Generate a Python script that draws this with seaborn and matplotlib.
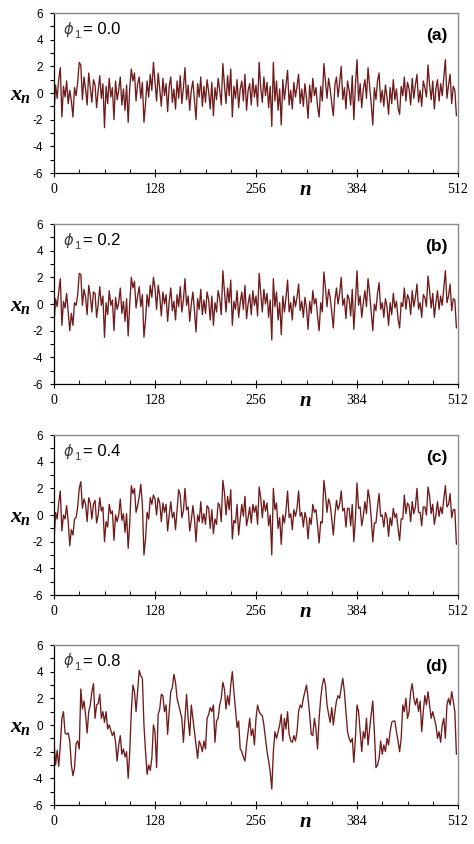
import numpy as np
import pandas as pd
import matplotlib
matplotlib.use("Agg")
import matplotlib.pyplot as plt
from matplotlib.ticker import FixedLocator, MultipleLocator
import seaborn as sns

# ---------------- data (every 2nd sample) ----------------
phi_values = ["0.0", "0.2", "0.4", "0.8"]
panel_tags = ["(a)", "(b)", "(c)", "(d)"]
x_ticks = [0, 128, 256, 384, 512]
x_tick_labels = ["0", "128", "256", "384", "512"]
y_ticks = [-6, -4, -2, 0, 2, 4, 6]
y_tick_labels = ["-6", "-4", "-2", "0", "2", "4", "6"]

series_a = [
    -1.5, 0.6, -0.4, 1.0, 1.9, -1.8, 0.5, -0.3, 0.9, -0.8, 0.2, -0.6, -1.8, 0.4, -0.2, 0.8,
    2.3, 2.1, -0.5, 1.2, 0.3, -0.9, 1.5, 0.4, -0.7, 1.0, 0.6, -1.1, 0.2, 1.3, -0.4, 0.7,
    -2.6, 0.5, -0.8, 1.1, -0.3, 0.4, -2.0, 0.9, -0.5, 0.2, 1.2, -0.9, 0.3, -1.3, 0.6, -2.2,
    0.4, 1.8, 0.9, 1.5, -0.6, 0.7, 1.2, -0.4, 0.8, -2.2, -0.8, 0.9, -0.3, 1.4, 0.2, 2.3,
    0.8, -0.6, 1.5, 0.3, -1.0, 1.1, -0.2, 0.7, -1.4, 0.5, 1.2, -0.7, 0.3, -1.2, 0.9, -0.4,
    1.3, -0.8, 0.4, 1.9, -0.5, 0.6, -1.3, 0.2, 0.9, -0.6, -2.0, 0.7, -0.3, 1.2, -1.0, 0.5,
    -0.7, 1.0, 0.1, -1.2, 0.8, -1.7, 0.4, -0.5, 1.1, 0.2, -0.9, 2.2, 0.6, -0.8, 1.3, -0.2,
    1.8, -1.8, 0.5, -0.4, 1.0, -1.1, 0.3, 0.9, -0.6, 1.4, -1.3, 0.2, 0.7, -0.9, 1.1, -0.3,
    0.6, -1.0, 2.3, 0.4, -0.7, 1.2, -0.2, 0.8, -1.1, 0.5, -2.5, 2.3, -0.6, 0.9, -1.3, 0.3,
    -2.4, 1.0, -0.5, 0.6, 1.7, -0.9, 0.2, -1.2, 0.8, -0.3, 0.5, 1.4, -0.8, 0.3, -1.0, 0.7,
    -0.4, -1.9, 0.6, -0.7, 1.1, -0.2, 0.4, -1.0, -1.8, 0.5, -0.6, 2.2, 0.9, -0.4, 1.1, 0.3,
    -0.8, -1.7, 0.6, 1.2, -0.3, 0.8, 2.0, -0.5, 0.4, -1.2, 0.9, 0.2, -0.9, 1.3, -2.0, 0.6,
    2.5, -0.6, 0.7, -1.1, 0.3, 1.0, -0.4, 1.9, 0.5, -0.8, -2.4, 0.4, -0.5, 0.9, 1.5, -0.7,
    0.2, -1.0, 0.6, -0.3, -1.6, 0.4, -0.8, 1.0, -0.5, 0.3, -1.1, -1.6, 0.5, -0.2, 1.2, -0.6,
    0.8, 0.3, -0.9, 1.1, -0.4, 0.6, 1.4, -0.7, 0.2, -1.0, 0.9, 0.4, -0.3, 2.1, 0.6, -0.5,
    0.9, -1.2, 0.3, 1.0, -0.6, 0.7, -0.2, 1.2, 2.5, -0.4, 0.6, 1.4, -0.8, 0.5, 0.2, -1.7,
]

series_b = [
    -1.5, 0.4, -0.2, 0.9, 1.9, -1.6, 0.2, -0.3, 0.8, -0.6, -2.0, -0.7, -1.6, 0.1, -0.1, 0.7,
    2.3, 2.2, -0.1, 1.1, 0.5, -0.8, 1.4, 0.6, -0.6, 0.9, 0.8, -1.0, 0.0, 1.3, -0.1, 0.6,
    -2.5, 0.1, -0.8, 1.0, -0.1, 0.3, -2.0, 0.5, -0.4, 0.1, 1.2, -0.7, 0.2, -1.3, 0.4, -2.4,
    0.0, 2.0, 1.2, 1.7, -0.3, 0.6, 1.3, -0.2, 0.7, -2.5, -1.2, 0.7, -0.2, 1.4, 0.5, 2.0,
    1.2, -0.4, 1.4, 0.6, -0.9, 0.9, 0.0, 0.7, -1.3, 0.2, 1.2, -0.5, 0.2, -1.2, 0.7, -0.2,
    1.3, -0.6, 0.3, 1.9, -0.1, 0.6, -1.3, 0.0, 0.9, -0.5, -2.1, 0.4, -0.4, 1.1, -0.8, 0.3,
    -0.7, 0.9, 0.3, -1.2, 0.6, -1.6, 0.1, -0.6, 1.0, 0.4, -0.8, 2.5, 1.0, -0.6, 1.2, 0.1,
    1.8, -1.6, 0.2, -0.4, 1.0, -1.0, 0.1, 0.9, -0.4, 1.4, -1.1, 0.0, 0.7, -0.8, 1.0, -0.1,
    0.6, -0.9, 2.3, 0.8, -0.6, 1.1, 0.0, 0.8, -1.0, 0.3, -2.7, 1.9, -0.2, 0.9, -1.2, 0.1,
    -2.3, 0.6, -0.6, 0.5, 1.8, -0.6, 0.1, -1.2, 0.6, -0.2, 0.5, 1.5, -0.5, 0.2, -1.0, 0.5,
    -0.3, -1.9, 0.2, -0.7, 1.0, 0.0, 0.4, -0.9, -2.0, 0.1, -0.6, 2.4, 1.2, -0.2, 1.1, 0.5,
    -0.6, -1.8, 0.3, 1.2, 0.0, 0.8, 2.0, -0.1, 0.4, -1.1, 0.7, 0.4, -0.9, 1.1, -1.9, 0.2,
    2.5, -0.1, 0.6, -1.0, 0.1, 1.0, -0.2, 1.9, 0.8, -0.6, -2.0, 0.0, -0.5, 0.8, 1.6, -0.4,
    0.1, -1.0, 0.4, -0.2, -1.6, 0.1, -0.8, 0.8, -0.3, 0.2, -1.1, -1.8, 0.1, -0.2, 1.2, -0.4,
    0.7, 0.4, -0.8, 1.0, -0.2, 0.5, 1.5, -0.4, 0.1, -1.0, 0.7, 0.5, -0.2, 2.1, 1.0, -0.3,
    0.8, -1.0, 0.1, 1.0, -0.4, 0.6, -0.1, 1.2, 2.5, 0.1, 0.6, 1.5, -0.5, 0.4, 0.3, -1.8,
]

series_c = [
    -2.0, 0.2, -0.3, 0.9, 1.8, -1.2, 0.0, -0.3, 0.7, -0.5, -2.3, -1.1, -1.5, -0.3, -0.2, 0.6,
    2.0, 2.5, 0.5, 1.2, 0.8, -0.5, 1.3, 0.9, -0.3, 0.8, 1.1, -0.6, 0.0, 1.3, 0.3, 0.6,
    -2.0, -0.5, -0.9, 0.8, 0.1, 0.3, -1.9, 0.0, -0.5, 0.0, 1.2, -0.4, 0.1, -1.3, 0.1, -2.5,
    -0.6, 2.2, 1.6, 2.0, 0.2, 0.7, 1.4, 2.3, 0.8, -3.0, -1.8, 0.2, -0.3, 1.3, 0.8, 1.5,
    1.2, 0.0, 1.3, 0.9, -0.5, 0.9, 0.2, 0.8, -1.2, 0.0, 1.0, -0.2, 0.2, -1.1, 0.4, 1.9,
    1.5, -0.2, 0.3, 2.0, 0.4, 0.6, -1.2, -0.4, 0.7, -0.3, -2.0, 0.0, -0.5, 1.0, -0.6, 0.1,
    -0.7, 0.7, 0.5, -1.0, 0.4, -1.4, -0.3, -0.7, 0.9, 0.7, -0.5, 2.6, 1.7, 0.0, 1.4, 0.4,
    1.9, -1.8, -0.4, -0.6, 0.8, -1.5, -0.3, 0.8, -0.1, 1.4, -0.8, -0.2, 0.6, -0.6, 0.8, 0.2,
    0.7, -0.7, 2.1, 1.3, -0.2, 1.1, 0.3, 0.9, -0.8, 0.0, -3.0, 2.0, 0.4, 0.9, -1.0, -0.2,
    -2.2, 0.0, -0.6, 0.3, 1.8, -0.2, 0.1, -1.1, 0.4, -0.1, 0.5, 1.8, -0.1, 0.2, -0.9, 0.2,
    -0.3, -1.8, -0.2, -0.7, 0.8, 0.2, 0.4, -0.8, -2.1, -0.5, -0.6, 2.6, 1.6, 0.2, 1.2, 0.8,
    -0.3, -1.5, 0.0, 1.1, 0.4, 0.8, 1.8, 0.3, 0.5, -0.9, 0.5, 0.5, -0.8, 0.8, -2.0, -0.3,
    2.4, 0.5, 0.6, -0.8, -0.1, 1.0, 0.1, 1.9, 1.2, -0.2, -2.0, -0.6, -0.6, 0.6, 1.6, -0.1,
    0.0, -0.9, 0.2, -0.2, -1.6, -0.2, -0.8, 0.5, -0.2, 0.1, -1.0, -1.9, -0.3, -0.3, 1.5, 0.1,
    0.9, 0.7, -0.5, 1.0, 0.1, 0.6, 2.0, 0.2, 0.2, -0.8, 0.6, 0.6, 0.0, 2.1, 1.4, 0.1,
    0.8, -0.7, 0.0, 1.0, -0.1, 0.6, 0.1, 1.2, 2.2, 0.6, 0.8, 1.6, -0.2, 0.4, 0.4, -2.2,
]

series_d = [
    -1.3, -3.0, -1.9, -3.1, -1.5, 0.5, 1.0, -0.6, -0.7, -0.6, -1.2, -3.0, -3.8, -3.2, -1.4, -1.2,
    -1.8, 2.7, 1.2, 1.8, 0.8, -0.6, 1.0, 1.5, 2.5, 3.1, 0.5, 1.5, 1.6, 2.3, 0.5, 1.0,
    0.2, 1.0, -0.3, 0.0, -0.4, -0.8, -0.5, -1.3, -2.7, -1.5, -0.8, -2.2, -1.8, -2.4, -2.0, -4.0,
    -2.0, 1.0, 3.0, 2.5, 1.0, 2.5, 4.1, 3.7, 3.5, 0.0, -2.0, -3.7, -3.0, -3.4, -2.5, 0.0,
    -0.5, -3.2, 0.8, 1.2, 2.3, 2.2, 1.0, 1.5, -0.7, 1.0, 2.5, 2.8, 3.8, 3.2, 2.0, 1.5,
    1.0, 0.5, -1.3, 0.5, 2.3, 0.5, -0.8, 1.5, 0.5, -0.5, -1.5, -2.5, -1.2, -1.5, -2.0, -1.2,
    -1.8, 0.5, 0.8, 1.3, 1.0, 1.5, -1.3, 0.3, 0.5, 1.5, 2.0, 3.2, 2.7, 1.2, 2.2, 1.5,
    3.0, 4.0, 2.5, 1.2, -0.2, 0.3, -1.8, -2.0, -2.4, -2.7, -1.5, -0.5, 0.5, -0.8, -0.3, -1.5,
    0.5, 1.5, 1.0, 0.8, 0.7, 0.0, -1.0, -2.0, -2.7, -3.5, -4.8, -2.0, -0.5, -1.0, -0.5, 0.0,
    0.8, -1.2, 0.5, -0.3, 1.0, -0.7, -1.2, -1.3, -0.8, -1.2, -0.5, 1.0, 1.5, 1.3, 2.0, 2.5,
    3.0, 2.0, 0.8, -0.7, -0.8, 0.5, -0.3, -1.8, 0.5, 2.0, 3.0, 3.5, 3.0, 1.5, 0.8, 0.2,
    1.3, 0.0, 1.0, 1.8, 2.2, 2.0, 2.8, 3.5, 2.5, 1.0, -0.5, -1.0, -1.3, -1.0, -2.8, -1.0,
    1.5, 1.0, -0.5, -2.0, -0.5, -1.0, 0.5, -1.5, -0.3, 0.8, 1.8, -0.5, -3.2, -3.0, -2.5, -1.2,
    -2.2, -1.5, -2.0, -1.0, -1.5, -0.5, 0.2, 0.3, 0.3, -0.5, -1.2, -2.0, -1.0, 1.5, 1.0, 2.0,
    0.5, 1.0, 2.5, 3.1, 2.0, 1.5, 2.0, 1.0, 1.8, -0.5, 1.0, 2.2, 1.5, 2.5, 1.5, 0.5,
    1.0, 0.5, 0.0, -1.0, -0.5, -1.3, 0.0, 0.5, -1.0, 1.5, 2.0, 1.5, 2.5, 1.8, 1.0, -2.2,
]

all_series = [series_a, series_b, series_c, series_d]

# ---------------- style ----------------
sns.set_style("ticks")
plt.rcParams["axes.unicode_minus"] = False

LINE = "#6f1b1b"
W, H = 474, 844
fig = plt.figure(figsize=(W / 100, H / 100), dpi=100)
fig.patch.set_facecolor("white")

left_px, right_px = 54, 458
tops_px = [13, 224, 435, 645]
ph = 160
SERIF = "Liberation Serif"
SANS = "Liberation Sans"

for k, vals in enumerate(all_series):
    top = tops_px[k]
    ax = fig.add_axes([left_px / W, 1 - (top + ph) / H, (right_px - left_px) / W, ph / H])
    n = np.arange(len(vals)) * 2
    df = pd.DataFrame({"n": n, "x": vals})
    sns.lineplot(data=df, x="n", y="x", ax=ax, color=LINE, linewidth=0.95,
                 estimator=None, sort=False)
    ax.set_xlim(0, 512)
    ax.set_ylim(-6, 6)
    ax.set_xlabel("")
    ax.set_ylabel("")

    ax.xaxis.set_major_locator(FixedLocator(x_ticks))
    ax.set_xticklabels(x_tick_labels)
    ax.xaxis.set_minor_locator(MultipleLocator(32))
    ax.yaxis.set_major_locator(FixedLocator(y_ticks))
    ax.set_yticklabels(y_tick_labels)
    ax.yaxis.set_minor_locator(MultipleLocator(1))

    ax.tick_params(axis="x", which="major", direction="inout", length=6, width=0.8,
                   pad=4, labelsize=10, colors="black")
    ax.tick_params(axis="x", which="minor", direction="in", length=3, width=0.8)
    ax.tick_params(axis="y", which="both", direction="out", length=3, width=0.8,
                   pad=5, labelsize=8.5, colors="black")
    for lab in ax.get_xticklabels():
        lab.set_family(SERIF)
    for lab in ax.get_yticklabels():
        lab.set_family(SANS)

    for s in ["top", "right"]:
        ax.spines[s].set_color("#8a8a8a")
        ax.spines[s].set_linewidth(1.0)
    for s in ["left", "bottom"]:
        ax.spines[s].set_color("black")
        ax.spines[s].set_linewidth(0.9)

    # y label x_n  (bold italic serif, subscript n)
    ytr = ax.get_yaxis_transform()
    ax.text(-0.094, -0.5, "x", transform=ytr, family=SERIF, style="italic",
            fontweight="bold", fontsize=16, ha="center", va="baseline", color="black")
    ax.text(-0.072, -0.78, "n", transform=ytr, family=SERIF, style="italic",
            fontweight="bold", fontsize=11.5, ha="center", va="baseline", color="black")
    # x label n
    ax.text(319, -0.1375, "n", transform=ax.get_xaxis_transform(), family=SERIF,
            style="italic", fontweight="bold", fontsize=15, ha="center", va="baseline",
            color="black")

    # phi label
    ax.text(0.024, 0.9, "\u03d5", transform=ax.transAxes, family="DejaVu Sans",
            style="italic", fontsize=10.5, va="center", ha="left", color="#3a3a3a")
    ax.text(0.05, 0.862, "1", transform=ax.transAxes, family=SANS,
            fontsize=8, va="center", ha="left", color="#3a3a3a")
    ax.text(0.073, 0.9, "= " + phi_values[k], transform=ax.transAxes,
            family=SANS, fontsize=12, va="center", ha="left", color="black")
    # panel tag
    ax.text(0.975, 0.8625, panel_tags[k], transform=ax.transAxes, family=SANS,
            fontweight="bold", fontsize=12.5, va="center", ha="right", color="black")

fig.savefig("out.png", dpi=100, facecolor="white")
